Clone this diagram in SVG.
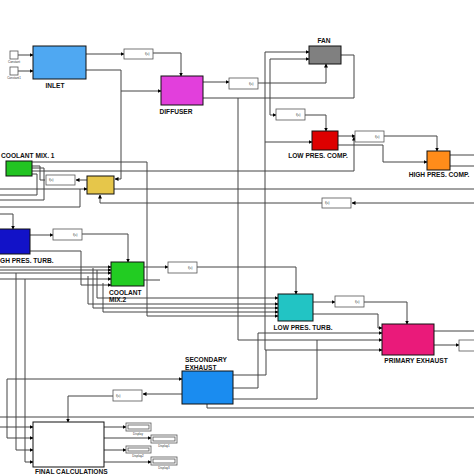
<svg xmlns="http://www.w3.org/2000/svg" width="474" height="474" viewBox="0 0 474 474">
<defs>
<marker id="ah" markerUnits="userSpaceOnUse" markerWidth="4" markerHeight="4" refX="3.5" refY="2" orient="auto"><path d="M0,0 L4,2 L0,4 Z" fill="#000"/></marker>
<style>
.blk{stroke:#111;stroke-width:1}
.fcn{fill:#fff;stroke:#555;stroke-width:0.8}
.lab{font-family:"Liberation Sans",Arial,sans-serif;font-weight:bold;font-size:6.6px;fill:#111}
.tiny{font-family:"Liberation Sans",Arial,sans-serif;font-size:3px;fill:#333}
.w{fill:none;stroke:#444;stroke-width:1}
.a{marker-end:url(#ah)}
</style>
</defs>
<rect width="474" height="474" fill="#fff"/>
<g id="connectors" class="w">
<path class="a" d="M18,55 H33"/>
<path class="a" d="M18,71 H33"/>
<path class="a" d="M86,54 H124"/>
<path class="a" d="M86,70 H121 V179 H115"/>
<path class="a" d="M121,91 H161"/>
<path class="a" d="M153,53 H181 V76"/>
<path class="a" d="M203,82 H229"/>
<path class="a" d="M258,83 H326 V64"/>
<path d="M341,55 H354 V98 H203"/>
<path class="a" d="M265,350 V52 H309"/>
<path class="a" d="M270,98 V59 H309"/>
<path class="a" d="M270,98 V115 H276"/>
<path class="a" d="M305,115 H326 V131"/>
<path class="a" d="M265,142 H312"/>
<path class="a" d="M338,136 H355"/>
<path class="a" d="M338,145 H383 V162 H427"/>
<path class="a" d="M32,171 H354 V137"/>
<path class="a" d="M384,136 H437 V151"/>
<path d="M450,155 H474"/>
<path d="M450,166 H474"/>
<path d="M114,189 H474"/>
<path class="a" d="M474,203 H352"/>
<path class="a" d="M322,203 H100 V195"/>
<path class="a" d="M87,180 H76"/>
<path d="M45,180 H40 V166 H32"/>
<path class="a" d="M0,189 H87"/>
<path d="M80,189 V207 H0"/>
<path d="M32,162 H147 V316"/>
<path d="M32,168 H44 V200 H0"/>
<path d="M32,174 H37 V195 H0"/>
<path class="a" d="M0,214 H13 V229"/>
<path class="a" d="M30,235 H53"/>
<path class="a" d="M82,234 H128 V262"/>
<path class="a" d="M30,251 H81 V285 H111"/>
<path class="a" d="M0,267 H111"/>
<path class="a" d="M0,270 H111"/>
<path class="a" d="M0,273 H111"/>
<path class="a" d="M0,279 H111"/>
<path class="a" d="M88,276 V304 H278"/>
<path class="a" d="M93,268 V308 H278"/>
<path class="a" d="M97,270 V298 H278"/>
<path class="a" d="M103,283 V312 H278"/>
<path class="a" d="M147,316 H278"/>
<path class="a" d="M144,267 H168"/>
<path class="a" d="M197,267 H296 V294"/>
<path d="M144,280 H160"/>
<path class="a" d="M313,302 H335"/>
<path class="a" d="M364,302 H407 V324"/>
<path class="a" d="M313,314 H378 V328 H382"/>
<path class="a" d="M233,388 H258 V333 H382"/>
<path class="a" d="M238,98 V340 H382"/>
<path d="M317,340 V399 H233"/>
<path class="a" d="M265,350 H382"/>
<path d="M233,375 H266 V350"/>
<path d="M434,331 H474"/>
<path class="a" d="M434,345 H459"/>
<path d="M207,404 V408 H474"/>
<path d="M0,417 H474"/>
<path class="a" d="M7,438 V379 H182"/>
<path class="a" d="M7,438 H33"/>
<path class="a" d="M182,394 H143"/>
<path class="a" d="M113,396 H68 V422"/>
<path class="a" d="M0,427 H33"/>
<path class="a" d="M16,273 V450 H33"/>
<path class="a" d="M25,279 V462 H33"/>
<path class="a" d="M104,427 H126"/>
<path class="a" d="M104,438 H151"/>
<path class="a" d="M104,450 H126"/>
<path class="a" d="M104,462 H151"/>
</g>
<g id="constant1"><rect x="10" y="51" width="8" height="8" class="fcn"/><text class="tiny" x="14" y="63" text-anchor="middle">Constant</text></g>
<g id="constant2"><rect x="10" y="67" width="8" height="8" class="fcn"/><text class="tiny" x="14" y="79" text-anchor="middle">Constant1</text></g>
<g id="inlet"><rect x="33" y="46" width="53" height="33" fill="#4fa8f2" class="blk"/><text class="lab" x="55" y="88" text-anchor="middle">INLET</text></g>
<g id="fcn1"><rect x="124" y="49" width="29" height="10" class="fcn"/><text class="tiny" x="145" y="55">f(u)</text></g>
<g id="diffuser"><rect x="161" y="76" width="42" height="29" fill="#e23fdc" class="blk"/><text class="lab" x="176" y="114" text-anchor="middle">DIFFUSER</text></g>
<g id="fcn2"><rect x="229" y="78" width="29" height="11" class="fcn"/><text class="tiny" x="249" y="85">f(u)</text></g>
<g id="fan"><rect x="309" y="46" width="32" height="18" fill="#808080" class="blk"/><text class="lab" x="324" y="43" text-anchor="middle">FAN</text></g>
<g id="fcn3"><rect x="276" y="109" width="29" height="11" class="fcn"/><text class="tiny" x="296" y="116">f(u)</text></g>
<g id="lpc"><rect x="312" y="131" width="26" height="19" fill="#dd0000" class="blk"/><text class="lab" x="318" y="158" text-anchor="middle">LOW PRES. COMP.</text></g>
<g id="fcn4"><rect x="355" y="131" width="29" height="11" class="fcn"/><text class="tiny" x="375" y="138">f(u)</text></g>
<g id="hpc"><rect x="427" y="151" width="23" height="19" fill="#ff8c1a" class="blk"/><text class="lab" x="439" y="177" text-anchor="middle">HIGH PRES. COMP.</text></g>
<g id="coolantmix1"><rect x="6" y="161" width="26" height="15" fill="#22c422" class="blk"/><text class="lab" x="1" y="158">COOLANT MIX. 1</text></g>
<g id="fcn5"><rect x="46" y="175" width="29" height="10" class="fcn"/><text class="tiny" x="49" y="181">f(u)</text></g>
<g id="yellow"><rect x="87" y="176" width="27" height="18" fill="#e6c64a" class="blk"/></g>
<g id="fcn8"><rect x="322" y="198" width="29" height="10" class="fcn"/><text class="tiny" x="325" y="204">f(u)</text></g>
<g id="hpt"><rect x="-2" y="229" width="32" height="25" fill="#1212c8" class="blk"/><text class="lab" x="0" y="263">GH PRES. TURB.</text></g>
<g id="fcn6"><rect x="53" y="229" width="29" height="11" class="fcn"/><text class="tiny" x="73" y="236">f(u)</text></g>
<g id="coolantmix2"><rect x="111" y="262" width="33" height="24" fill="#22cc22" class="blk"/><text class="lab" x="109" y="295">COOLANT</text><text class="lab" x="109" y="302">MIX.2</text></g>
<g id="fcn9"><rect x="168" y="262" width="29" height="11" class="fcn"/><text class="tiny" x="188" y="269">f(u)</text></g>
<g id="lpt"><rect x="278" y="294" width="35" height="27" fill="#22c4c4" class="blk"/><text class="lab" x="303" y="330" text-anchor="middle">LOW PRES. TURB.</text></g>
<g id="fcn10"><rect x="335" y="296" width="29" height="11" class="fcn"/><text class="tiny" x="355" y="303">f(u)</text></g>
<g id="primaryexhaust"><rect x="382" y="324" width="52" height="31" fill="#ea1a7a" class="blk"/><text class="lab" x="416" y="363" text-anchor="middle">PRIMARY EXHAUST</text></g>
<g id="fcn11"><rect x="459" y="340" width="29" height="11" class="fcn"/></g>
<g id="secondaryexhaust"><rect x="182" y="371" width="51" height="33" fill="#1a8cf0" class="blk"/><text class="lab" x="185" y="362">SECONDARY</text><text class="lab" x="185" y="370">EXHAUST</text></g>
<g id="fcn12"><rect x="113" y="390" width="29" height="11" class="fcn"/><text class="tiny" x="116" y="397">f(u)</text></g>
<g id="finalcalc"><rect x="33" y="422" width="71" height="45" fill="#fff" class="blk"/><text class="lab" x="35" y="474">FINAL CALCULATIONS</text></g>
<g id="display1"><rect x="126" y="423" width="25" height="8" class="fcn"/><rect x="128" y="425" width="21" height="4" class="fcn"/><text class="tiny" x="138" y="435" text-anchor="middle">Display</text></g>
<g id="display2"><rect x="151" y="435" width="26" height="8" class="fcn"/><rect x="153" y="437" width="22" height="4" class="fcn"/><text class="tiny" x="164" y="447" text-anchor="middle">Display1</text></g>
<g id="display3"><rect x="126" y="446" width="25" height="7" class="fcn"/><rect x="128" y="448" width="21" height="3" class="fcn"/><text class="tiny" x="138" y="457" text-anchor="middle">Display2</text></g>
<g id="display4"><rect x="151" y="457" width="26" height="8" class="fcn"/><rect x="153" y="459" width="22" height="4" class="fcn"/><text class="tiny" x="164" y="469" text-anchor="middle">Display3</text></g>
</svg>
